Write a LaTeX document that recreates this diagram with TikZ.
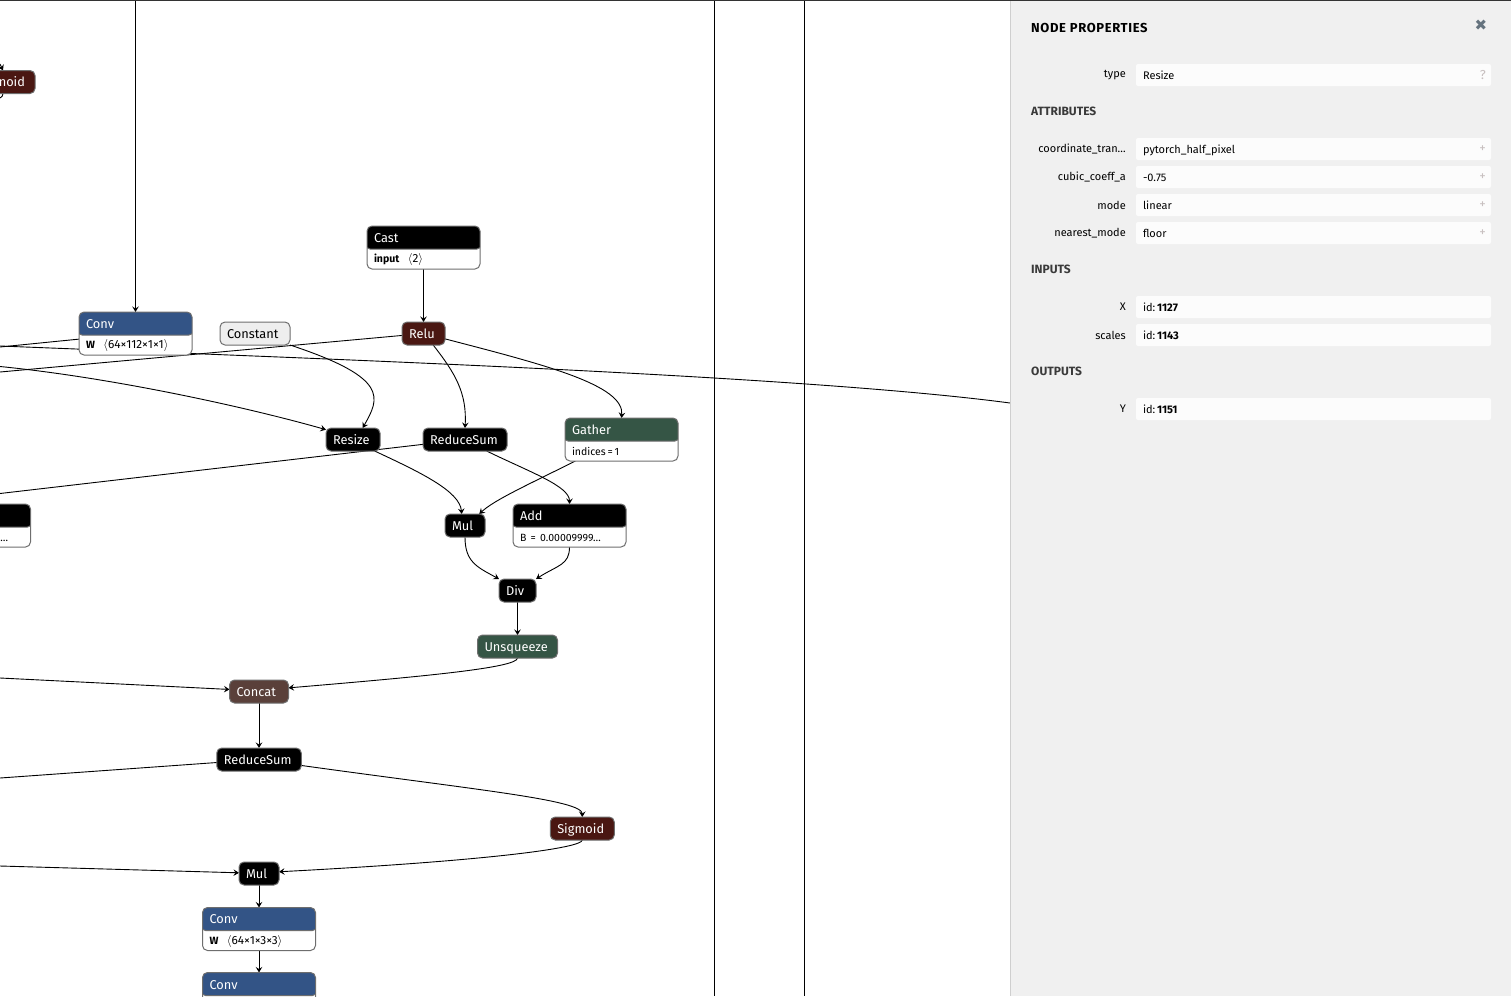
\documentclass[tikz,border=0pt]{standalone}
\usepackage{fontspec}
\setmainfont{Fira Sans}
\newfontfamily\closefont{DejaVu Sans}
\usetikzlibrary{
  	arrows.meta,
  	positioning,
  	backgrounds
  }
\definecolor{convblue}{HTML}{335486}
\definecolor{shapegreen}{HTML}{355545}
\definecolor{relubrown}{HTML}{4A1712}
\definecolor{concatbrown}{HTML}{5A403A}
\definecolor{constgray}{HTML}{EEEEEE}
\definecolor{nodeedge}{HTML}{6E6E6E}
\definecolor{panelgray}{HTML}{F0F0F0}
\definecolor{panelline}{HTML}{CFCFCF}
\definecolor{fieldwhite}{HTML}{FCFCFC}
\definecolor{headgray}{HTML}{3A3A3A}
\definecolor{closegray}{HTML}{65737E}
\definecolor{markgray}{HTML}{C8C0C0}
\tikzset{
	opbox/.style={draw=nodeedge, line width=1pt, rounded corners=5pt, outer sep=0pt, inner xsep=7pt, inner ysep=0pt,
		minimum height=23pt, text width=#1-14pt, align=left, font=\fontsize{12.8}{15}\selectfont, text height=11pt, text depth=2pt},
	blackop/.style={opbox=#1, fill=black, text=white},
	attrbox/.style={draw=nodeedge, line width=1pt, rounded corners=5pt, outer sep=0pt, inner xsep=7pt, inner ysep=0pt,
		fill=white, minimum height=43pt, text width=99pt, align=left, font=\fontsize{12.8}{20.5}\selectfont,
		path picture={\filldraw[fill=#1, draw=nodeedge] ([shift={(-2pt,2pt)}]path picture bounding box.north west) rectangle ([shift={(2pt,-23pt)}]path picture bounding box.north east);}},
	wire/.style={-{Stealth[length=5.5pt,width=6.5pt,inset=2pt]}, line width=.9pt, black},
	plainwire/.style={line width=.9pt, black},
	field/.style={fill=fieldwhite, rounded corners=2pt, outer sep=0pt, inner xsep=7pt, inner ysep=0pt, minimum height=22pt,
		text width=341pt, align=left, font=\fontsize{11}{13}\selectfont, text height=11.5pt, text depth=2pt},
	fieldlabel/.style={font=\fontsize{11}{13}\selectfont, inner sep=0pt},
	fieldmark/.style={font=\fontsize{13}{15}\selectfont, text=markgray, inner sep=0pt},
	panelhead/.style={font=\fontsize{12}{14}\selectfont\bfseries, text=headgray, inner sep=0pt}
}
\newcommand{\attrtext}[2]{\textcolor{white}{\rule{0pt}{13pt}#1}\\{\fontsize{10.5}{20.5}\selectfont\rule[-2pt]{0pt}{2pt}#2}}
\newcommand{\shapetext}[2]{\textbf{#1}\ \ {\fontsize{11.8}{20.5}\selectfont$\langle$#2$\rangle$}}
\begin{document}
\begin{tikzpicture}[x=1pt, y=1pt]
	\useasboundingbox (0,0) rectangle (1511,-996);
	\node[attrbox=black] (cast) at (423.5,-247.5) {\attrtext{Cast}{\shapetext{input}{2}}};
	\node[opbox=43, fill=relubrown, text=white, below=53 of cast] (relu) {Relu};
	\node[opbox=70, fill=constgray, left=112 of relu] (constant) {Constant};
	\node[attrbox=convblue, left=28 of constant] (conva) {\attrtext{Conv}{\shapetext{W}{64×112×1×1}}};
%
	\node[blackop=54, below left=83 and 22 of relu] (resize) {Resize};
	\node[blackop=84, right=43 of resize] (reducesuma) {ReduceSum};
	\node[attrbox=shapegreen, right=58 of reducesuma] (gather) {\attrtext{Gather}{indices\,=\,1}};
	\node[attrbox=black, below right=53 and 6 of reducesuma] (addb) {\attrtext{Add}{B = 0.00009999…}};
	\node[blackop=40, left=28 of addb] (mula) {Mul};
	\node[attrbox=black, left=414.5 of mula] (adda) {\attrtext{}{\hspace*{76pt}…}};
	\node[blackop=37, below right=42 and 14 of mula] (div) {Div};
	\node[opbox=80, fill=shapegreen, text=white, below=33 of div] (unsqueeze) {Unsqueeze};
%
	\node[opbox=59, fill=concatbrown, text=white, below left=22 and 189 of unsqueeze] (concat) {Concat};
	\node[blackop=84.5, below=45 of concat] (reducesumb) {ReduceSum};
	\node[opbox=64, fill=relubrown, text=white, below right=46 and 249 of reducesumb] (sigmoidb) {Sigmoid};
	\node[blackop=40, below=91 of reducesumb] (mulb) {Mul};
	\node[attrbox=convblue, below=22.5 of mulb] (convb) {\attrtext{Conv}{\shapetext{W}{64×1×3×3}}};
	\node[attrbox=convblue, below=22 of convb] (convc) {\attrtext{Conv}{}};
	\node[opbox=64, fill=relubrown, text=white, align=right] (sigmoida) at (3,-82) {noid\hspace*{3pt}};
%
	\coordinate (topconv) at (135.5,0);
	\coordinate (linea) at (714.5,0);
	\coordinate (lineab) at (714.5,-996);
	\coordinate (lineb) at (804.5,0);
	\coordinate (linebb) at (804.5,-996);
	\coordinate (toproof) at (1511,-.5);
	\coordinate (toprool) at (0,-.5);
	\coordinate (leftlong) at (0,-346);
	\coordinate (rightlong) at (1010,-403);
	\coordinate (leftconv) at (0,-347);
	\coordinate (leftrelu) at (0,-372);
	\coordinate (leftresize) at (0,-366.5);
	\coordinate (leftsum) at (0,-493.5);
	\coordinate (leftconcat) at (0,-678);
	\coordinate (leftsumb) at (0,-778);
	\coordinate (leftmul) at (0,-866);
	\coordinate (sigtop) at (0,-64);
	\coordinate (sigend) at (0,-98);
%
	\node[fill=panelgray, minimum width=501, minimum height=996, inner sep=0pt, outer sep=0pt] (panel) at (1260.5,-498) {};
	\coordinate (paneltop) at (1010.5,0);
	\coordinate (panelbot) at (1010.5,-996);
	\draw[panelline, line width=1pt] (paneltop) -- (panelbot);
	\draw[black!80, line width=1pt] (toprool) -- (toproof);
	\node[font=\fontsize{13}{15}\selectfont\bfseries\addfontfeatures{LetterSpace=5}, inner sep=0pt, anchor=west] (proptitle) at (1031,-27.5) {NODE PROPERTIES};
	\node[font=\closefont\fontsize{15}{17}\selectfont, text=closegray, inner sep=0pt] (propclose) at (1481,-25) {✖};
%
	\node[field] (typeval) at (1313.5,-75) {Resize};
	\node[fieldlabel, left=10 of typeval] (typelab) {type};
	\node[fieldmark, left=5 of typeval.east] (typemark) {?};
%
	\node[panelhead, anchor=west] (attrhead) at (1031,-111) {ATTRIBUTES};
	\node[field, below=52 of typeval] (coordval) {pytorch\_half\_pixel};
	\node[fieldlabel, left=10 of coordval] (coordlab) {coordinate\_tran…};
	\node[fieldmark, left=5 of coordval.east] (coordmark) {+};
	\node[field, below=6 of coordval] (cubicval) {-0.75};
	\node[fieldlabel, left=10 of cubicval] (cubiclab) {cubic\_coeff\_a};
	\node[fieldmark, left=5 of cubicval.east] (cubicmark) {+};
	\node[field, below=6 of cubicval] (modeval) {linear};
	\node[fieldlabel, left=10 of modeval] (modelab) {mode};
	\node[fieldmark, left=5 of modeval.east] (modemark) {+};
	\node[field, below=6 of modeval] (nearval) {floor};
	\node[fieldlabel, left=10 of nearval] (nearlab) {nearest\_mode};
	\node[fieldmark, left=5 of nearval.east] (nearmark) {+};
%
	\node[panelhead, anchor=west] (inhead) at (1031,-269) {INPUTS};
	\node[field, below=52 of nearval] (xval) {id:\,\textbf{1127}};
	\node[fieldlabel, left=10 of xval] (xlab) {X};
	\node[field, below=6 of xval] (scaleval) {id:\,\textbf{1143}};
	\node[fieldlabel, left=10 of scaleval] (scalelab) {scales};
%
	\node[panelhead, anchor=west] (outhead) at (1031,-371) {OUTPUTS};
	\node[field, below=52 of scaleval] (yval) {id:\,\textbf{1151}};
	\node[fieldlabel, left=10 of yval] (ylab) {Y};
%
	\begin{scope}[on background layer]
	\draw[plainwire] (linea) -- (lineab);
	\draw[plainwire] (lineb) -- (linebb);
	\draw[wire] (topconv) -- (conva.north);
	\draw[plainwire] (leftconv) -- (conva);
	\draw[plainwire] (leftlong) .. controls +(300,-12) and +(-210,28) .. (rightlong);
	\draw[plainwire] (relu) -- (leftrelu);
	\draw[plainwire] (reducesuma) -- (leftsum);
	\draw[wire] (leftresize) .. controls +(120,-12) and +(-70,20) .. (resize.160);
	\draw[wire] (constant.south east) .. controls +(100,-33) and +(17,30) .. (resize.50);
	\draw[wire] (cast) -- (relu);
	\draw[wire] (relu.-50) .. controls +(22,-28) and +(2,35) .. (reducesuma.north);
	\draw[wire] (relu.-14) .. controls +(100,-26) and +(3,33) .. (gather.north);
%
	\draw[wire] (resize.-28) .. controls +(45,-21) and +(-2,23) .. (mula.106);
	\draw[wire] (gather.-155) .. controls +(-48,-24) and +(15,14) .. (mula.39);
	\draw[wire] (reducesuma.-28) .. controls +(43,-21) and +(0,18) .. (addb.north);
	\draw[wire] (mula.south) .. controls +(0,-25) and +(-22,12) .. (div.north west);
	\draw[wire] (addb.south) .. controls +(0,-18) and +(22,14) .. (div.north east);
	\draw[wire] (div) -- (unsqueeze);
%
	\draw[wire] (unsqueeze.south) .. controls +(0,-10) and +(130,11) .. (concat.7);
	\draw[wire] (leftconcat) -- (concat.176);
	\draw[wire] (concat) -- (reducesumb);
	\draw[plainwire] (leftsumb) -- (reducesumb);
	\draw[wire] (reducesumb.-8) .. controls +(180,-25) and +(0,17) .. (sigmoidb.north);
	\draw[wire] (sigmoidb.south) .. controls +(0,-8) and +(210,11) .. (mulb.5);
	\draw[wire] (leftmul) -- (mulb.178);
	\draw[wire] (mulb) -- (convb);
	\draw[wire] (convb) -- (convc);
	\draw[wire] (sigtop) -- (sigmoida.north);
	\draw[plainwire] (sigmoida.south) .. controls +(0,-2) and +(2,1) .. (sigend);
	\end{scope}
\end{tikzpicture}
\end{document}
